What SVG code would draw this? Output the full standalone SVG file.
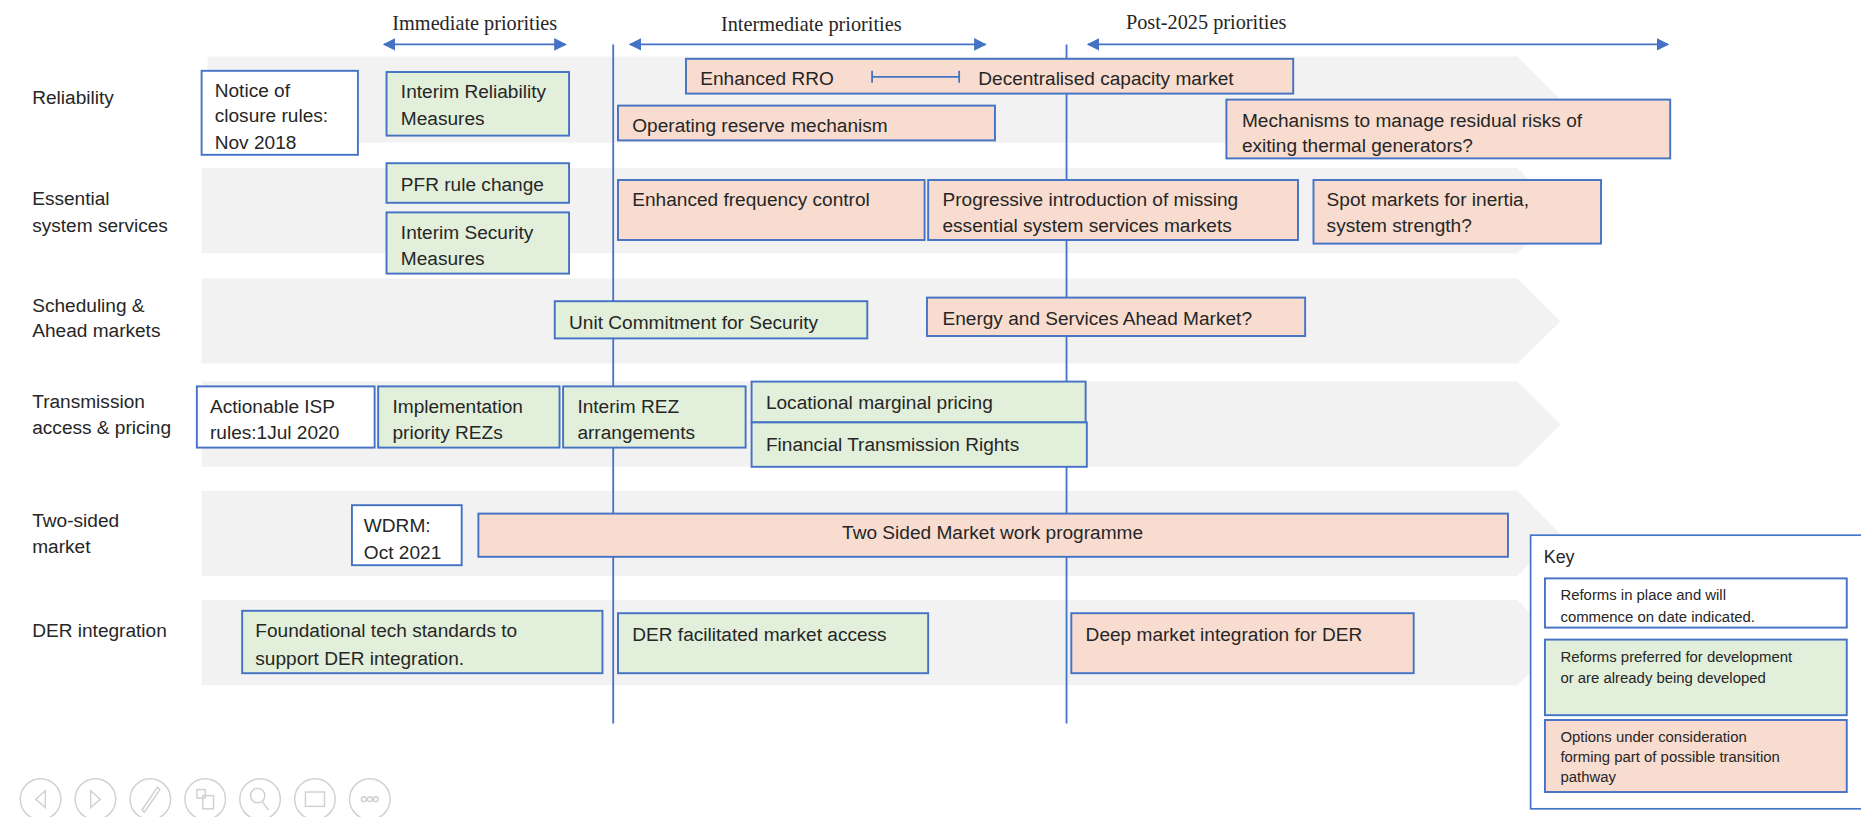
<svg xmlns="http://www.w3.org/2000/svg" width="1861" height="817" viewBox="0 0 1861 817">
<defs>
<style>
text{font-family:"Liberation Sans",Arial,sans-serif;font-size:16px;fill:#262626}
.h{font-family:"Liberation Serif","Times New Roman",serif;font-size:17px}
.k{font-size:12.5px}
.w{fill:#fff;stroke:#4472c4;stroke-width:1.6}
.g{fill:#e2efda;stroke:#4472c4;stroke-width:1.6}
.p{fill:#f8dccf;stroke:#4472c4;stroke-width:1.6}
.band{fill:#f2f2f2}
.ln{stroke:#4472c4;stroke-width:1.5;fill:none}
.ic{fill:none;stroke:#d0d0d0;stroke-width:1.2}
</style>
<marker id="a" viewBox="0 0 10 10" refX="9" refY="5" markerWidth="7" markerHeight="7" orient="auto-start-reverse"><path d="M0,0L10,5L0,10z" fill="#4472c4"/></marker>
</defs>
<rect width="1861" height="817" fill="#fff"/>
<g transform="scale(1.193,1.2)">
<g id="bands">
<path class="band" d="M174,47H1272L1308,83L1272,119H174z"/>
<path class="band" d="M169,140H1272L1308,176L1272,211H169z"/>
<path class="band" d="M169,232H1272L1308,268L1272,303H169z"/>
<path class="band" d="M169,318H1272L1308,354L1272,389H169z"/>
<path class="band" d="M169,409H1272L1308,445L1272,480H169z"/>
<path class="band" d="M169,500H1272L1308,536L1272,571H169z"/>
</g>
<g id="connectors">
<line class="ln" x1="514" y1="37" x2="514" y2="603"/>
<line class="ln" x1="894" y1="37" x2="894" y2="603"/>
<line class="ln" x1="322" y1="37" x2="474" y2="37" marker-start="url(#a)" marker-end="url(#a)"/>
<line class="ln" x1="528" y1="37" x2="826" y2="37" marker-start="url(#a)" marker-end="url(#a)"/>
<line class="ln" x1="912" y1="37" x2="1398" y2="37" marker-start="url(#a)" marker-end="url(#a)"/>
</g>
<g id="headers">
<text class="h" x="398" y="25" text-anchor="middle">Immediate priorities</text>
<text class="h" x="680" y="26" text-anchor="middle">Intermediate priorities</text>
<text class="h" x="1011" y="24" text-anchor="middle">Post-2025 priorities</text>
</g>
<g id="rowlabels">
<text x="27" y="87">Reliability</text>
<text x="27" y="171">Essential</text><text x="27" y="193">system services</text>
<text x="27" y="260">Scheduling &amp;</text><text x="27" y="281">Ahead markets</text>
<text x="27" y="340">Transmission</text><text x="27" y="362">access &amp; pricing</text>
<text x="27" y="439">Two-sided</text><text x="27" y="461">market</text>
<text x="27" y="531">DER integration</text>
</g>
<g id="n-notice"><rect class="w" x="169" y="59" width="131" height="70"/><text x="180" y="81">Notice of</text><text x="180" y="102">closure rules:</text><text x="180" y="124">Nov 2018</text></g>
<g id="n-irm"><rect class="g" x="324" y="60" width="153" height="53"/><text x="336" y="82">Interim Reliability</text><text x="336" y="104">Measures</text></g>
<g id="n-rro"><rect class="p" x="575" y="49" width="509" height="29"/><text x="587" y="71">Enhanced RRO</text><line class="ln" x1="731" y1="64" x2="804" y2="64" stroke-width="2"/><line class="ln" x1="731" y1="59" x2="731" y2="69"/><line class="ln" x1="804" y1="59" x2="804" y2="69"/><text x="820" y="71">Decentralised capacity market</text></g>
<g id="n-orm"><rect class="p" x="518" y="88" width="316" height="29"/><text x="530" y="110">Operating reserve mechanism</text></g>
<g id="n-mech"><rect class="p" x="1028" y="83" width="372" height="49"/><text x="1041" y="106">Mechanisms to manage residual risks of</text><text x="1041" y="127">exiting thermal generators?</text></g>
<g id="n-pfr"><rect class="g" x="324" y="136" width="153" height="33"/><text x="336" y="159">PFR rule change</text></g>
<g id="n-ism"><rect class="g" x="324" y="177" width="153" height="51"/><text x="336" y="199">Interim Security</text><text x="336" y="221">Measures</text></g>
<g id="n-efc"><rect class="p" x="518" y="150" width="257" height="50"/><text x="530" y="172">Enhanced frequency control</text></g>
<g id="n-prog"><rect class="p" x="778" y="150" width="310" height="50"/><text x="790" y="172">Progressive introduction of missing</text><text x="790" y="193">essential system services markets</text></g>
<g id="n-spot"><rect class="p" x="1101" y="150" width="241" height="53"/><text x="1112" y="172">Spot markets for inertia,</text><text x="1112" y="193">system strength?</text></g>
<g id="n-ucs"><rect class="g" x="465" y="251" width="262" height="31"/><text x="477" y="274">Unit Commitment for Security</text></g>
<g id="n-esam"><rect class="p" x="777" y="248" width="317" height="32"/><text x="790" y="271">Energy and Services Ahead Market?</text></g>
<g id="n-isp"><rect class="w" x="165" y="322" width="149" height="51"/><text x="176" y="344">Actionable ISP</text><text x="176" y="366">rules:1Jul 2020</text></g>
<g id="n-rez"><rect class="g" x="317" y="322" width="152" height="51"/><text x="329" y="344">Implementation</text><text x="329" y="366">priority REZs</text></g>
<g id="n-irez"><rect class="g" x="472" y="322" width="153" height="51"/><text x="484" y="344">Interim REZ</text><text x="484" y="366">arrangements</text></g>
<g id="n-lmp"><rect class="g" x="630" y="318" width="280" height="34"/><text x="642" y="341">Locational marginal pricing</text></g>
<g id="n-ftr"><rect class="g" x="630" y="352" width="281" height="37"/><text x="642" y="376">Financial Transmission Rights</text></g>
<g id="n-wdrm"><rect class="w" x="295" y="421" width="92" height="50"/><text x="305" y="443">WDRM:</text><text x="305" y="466">Oct 2021</text></g>
<g id="n-tsm"><rect class="p" x="401" y="428" width="863" height="36"/><text x="832" y="449" text-anchor="middle">Two Sided Market work programme</text></g>
<g id="n-found"><rect class="g" x="203" y="509" width="302" height="52"/><text x="214" y="531">Foundational tech standards to</text><text x="214" y="554">support DER integration.</text></g>
<g id="n-derfma"><rect class="g" x="518" y="511" width="260" height="50"/><text x="530" y="534">DER facilitated market access</text></g>
<g id="n-deep"><rect class="p" x="898" y="511" width="287" height="50"/><text x="910" y="534">Deep market integration for DER</text></g>
<g id="key">
<rect x="1283" y="446" width="290" height="228" fill="#fff" stroke="#4472c4" stroke-width="1.4"/>
<text x="1294" y="469" style="font-size:15px">Key</text>
<rect class="w" x="1295" y="482" width="253" height="41"/><text class="k" x="1308" y="500">Reforms in place and will</text><text class="k" x="1308" y="518">commence on date indicated.</text>
<rect class="g" x="1295" y="533" width="253" height="63"/><text class="k" x="1308" y="552">Reforms preferred for development</text><text class="k" x="1308" y="569">or are already being developed</text>
<rect class="p" x="1295" y="600" width="253" height="60"/><text class="k" x="1308" y="618">Options under consideration</text><text class="k" x="1308" y="635">forming part of possible transition</text><text class="k" x="1308" y="652">pathway</text>
</g>
<g id="nav">
<circle class="ic" cx="34" cy="666" r="17"/><path class="ic" d="M38,659L30,666L38,673z"/>
<circle class="ic" cx="80" cy="666" r="17"/><path class="ic" d="M76,659L84,666L76,673z"/>
<circle class="ic" cx="126" cy="666" r="17"/><path class="ic" d="M119,675L132,656L134,658L121,677z"/>
<circle class="ic" cx="172" cy="666" r="17"/><rect class="ic" x="165" y="658" width="7" height="7"/><rect class="ic" x="170" y="663" width="9" height="11"/>
<circle class="ic" cx="218" cy="666" r="17"/><circle class="ic" cx="216" cy="663" r="6"/><line class="ic" x1="220" y1="668" x2="225" y2="675"/>
<circle class="ic" cx="264" cy="666" r="17"/><rect class="ic" x="256" y="660" width="16" height="12"/>
<circle class="ic" cx="310" cy="666" r="17"/><circle class="ic" cx="305" cy="666" r="2"/><circle class="ic" cx="310" cy="666" r="2"/><circle class="ic" cx="315" cy="666" r="2"/>
</g>
</g>
</svg>
